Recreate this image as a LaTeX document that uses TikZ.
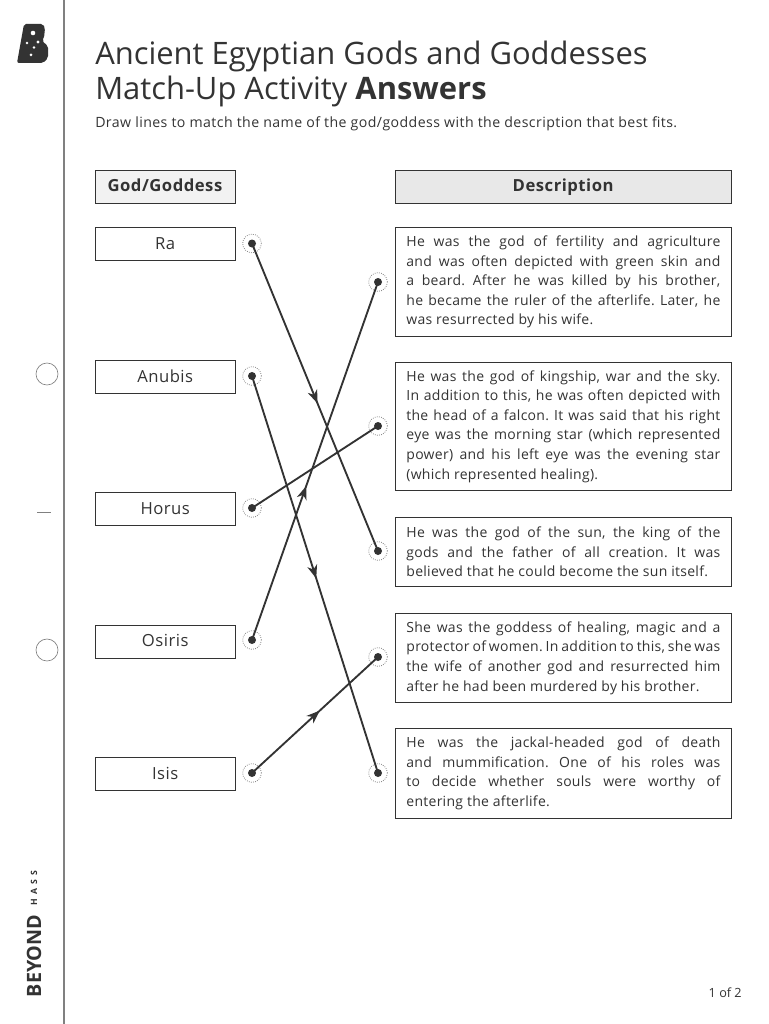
\documentclass[tikz,border=0pt]{standalone}
\usepackage{fontspec}
\setmainfont{Open Sans}
\newfontfamily\spacedfont[LetterSpace=3]{Open Sans}
\newfontfamily\descfont[LetterSpace=2]{Open Sans}
\usetikzlibrary{arrows.meta,decorations.markings}

\definecolor{inkgray}{HTML}{333333}
\tikzset{
	godbox/.style={draw=inkgray,line width=0.6pt,minimum width=104.7pt,minimum height=25pt,inner sep=0pt,text height=9.7pt,text depth=2.3pt,font=\spacedfont\fontsize{12.5}{13}\selectfont,text=inkgray},
	descbox/.style={draw=inkgray,line width=0.6pt,anchor=north west,minimum width=252pt,inner xsep=8.25pt,inner ysep=0pt,text width=235.5pt,align=justify,font=\descfont\fontsize{10.5}{14.7}\selectfont\frenchspacing,text=inkgray},
	dotcore/.style={circle,fill=inkgray,inner sep=0pt,minimum size=6pt},
	dotring/.style={circle,draw=gray,densely dotted,line width=0.6pt,inner sep=0pt,minimum size=14pt},
	holemark/.style={circle,draw=gray,line width=0.5pt,inner sep=0pt,minimum size=16.5pt},
	matchline/.style={draw=inkgray,line width=1.4pt},
	midarrow/.style={postaction={decorate},decoration={markings,mark=at position #1 with {\arrow{Stealth[length=10pt,width=7.5pt,inset=3pt]}}}}
}
\newcommand{\matchdot}[3]{
	\node[dotring] (#1ring) at (#2, #3) {};
	\node[dotcore] (#1) at (#2, #3) {};
}

\begin{document}
\begin{tikzpicture}[x=0.75pt,y=-0.75pt]
	\useasboundingbox (0,0) rectangle (768,1024);
	% side strip
	\draw[gray,line width=0.9pt] (64,0) -- (64,1024);
	\node[holemark] (holetop) at (47,374) {};
	\node[holemark] (holebottom) at (47,650) {};
	\draw[gray,line width=0.5pt] (37,512) -- (51,512);
	\fill[inkgray,rounded corners=1.5pt] (24,24) -- (43,24) -- (45,28) -- (44,38) -- (42,41) -- (48,46) -- (48,58) -- (43,63) -- (17,63) -- cycle;
	\fill[white] (33,33) circle (2.3) (27,43) circle (1.4) (38,42) circle (1.7) (34,47.5) circle (1.3) (31,55) circle (1.5);
	\node[rotate=90,anchor=west,inner sep=0pt,text=inkgray,font=\bfseries\fontsize{14.8}{16}\selectfont] (beyond) at (34,997.5) {BEYOND};
	\node[rotate=90,anchor=west,inner sep=0pt,text=inkgray,font=\bfseries\fontsize{6.5}{8}\selectfont] (hass) at (34,906) {H\hspace{3.2pt}A\hspace{3.2pt}S\hspace{3.2pt}S};
	% heading
	\node[anchor=base west,inner sep=0pt,text=inkgray,font=\fontsize{23.2}{26}\selectfont] (title) at (95,64.5) {Ancient Egyptian Gods and Goddesses};
	\node[anchor=base west,inner sep=0pt,text=inkgray,font=\fontsize{23.2}{26}\selectfont] (subtitle) at (95,99.5) {Match-Up Activity \textbf{Answers}};
	\node[anchor=base west,inner sep=0pt,text=inkgray,font=\spacedfont\fontsize{10.6}{12}\selectfont] (intro) at (95,127.5) {Draw lines to match the name of the god/goddess with the description that best fits.};
	% left column
	\node[godbox,anchor=north west,fill=gray!10] (godhead) at (95,169.5) {\textbf{God/Goddess}};
	\node[godbox,anchor=north west] (ra) at (95,227) {Ra};
	\node[godbox,anchor=north west] (anubis) at (95,360) {Anubis};
	\node[godbox,anchor=north west] (horus) at (95,492) {Horus};
	\node[godbox,anchor=north west] (osiris) at (95,624.5) {Osiris};
	\node[godbox,anchor=north west] (isis) at (95,757) {Isis};
	% right column
	\node[godbox,anchor=north west,fill=gray!18,minimum width=252pt] (deschead) at (395,169.5) {\textbf{Description}};
	\node[descbox,minimum height=82pt] (descosiris) at (395,227) {He was the god of fertility and agriculture\linebreak and was often depicted with green skin and\linebreak a beard. After he was killed by his brother,\linebreak he became the ruler of the afterlife. Later, he\linebreak was resurrected by his wife.};
	\node[descbox,minimum height=96pt] (deschorus) at (395,362) {He was the god of kingship, war and the sky.\linebreak In addition to this, he was often depicted with\linebreak the head of a falcon. It was said that his right\linebreak eye was the morning star (which represented\linebreak power) and his left eye was the evening star\linebreak (which represented healing).};
	\node[descbox,minimum height=52pt] (descra) at (395,517) {He was the god of the sun, the king of the\linebreak gods and the father of all creation. It was\linebreak believed that he could become the sun itself.};
	\node[descbox,minimum height=67pt] (descisis) at (395,613) {She was the goddess of healing, magic and a\linebreak protector of women. In addition to this, she was\linebreak the wife of another god and resurrected him\linebreak after he had been murdered by his brother.};
	\node[descbox,minimum height=67.5pt] (descanubis) at (395,728) {He was the jackal-headed god of death\linebreak and mummification. One of his roles was\linebreak to decide whether souls were worthy of\linebreak entering the afterlife.};
	% match dots
	\matchdot{dotra}{252}{243.5}
	\matchdot{dotanubis}{252}{376}
	\matchdot{dothorus}{252}{508}
	\matchdot{dotosiris}{252}{640}
	\matchdot{dotisis}{252}{773}
	\matchdot{dotdescosiris}{378}{282}
	\matchdot{dotdeschorus}{378}{426}
	\matchdot{dotdescra}{378}{551}
	\matchdot{dotdescisis}{378}{657}
	\matchdot{dotdescanubis}{378}{773}
	% answers
	\draw[matchline,midarrow=0.52] (dotra.center) -- (dotdescra.center);
	\draw[matchline,midarrow=0.51] (dotanubis.center) -- (dotdescanubis.center);
	\draw[matchline] (dothorus.center) -- (dotdeschorus.center);
	\draw[matchline,midarrow=0.43] (dotosiris.center) -- (dotdescosiris.center);
	\draw[matchline,midarrow=0.54] (dotisis.center) -- (dotdescisis.center);
	% page number
	\node[anchor=base east,inner sep=0pt,text=inkgray,font=\fontsize{9.5}{12}\selectfont] (pagenum) at (742,997) {1 of 2};
\end{tikzpicture}
\end{document}
